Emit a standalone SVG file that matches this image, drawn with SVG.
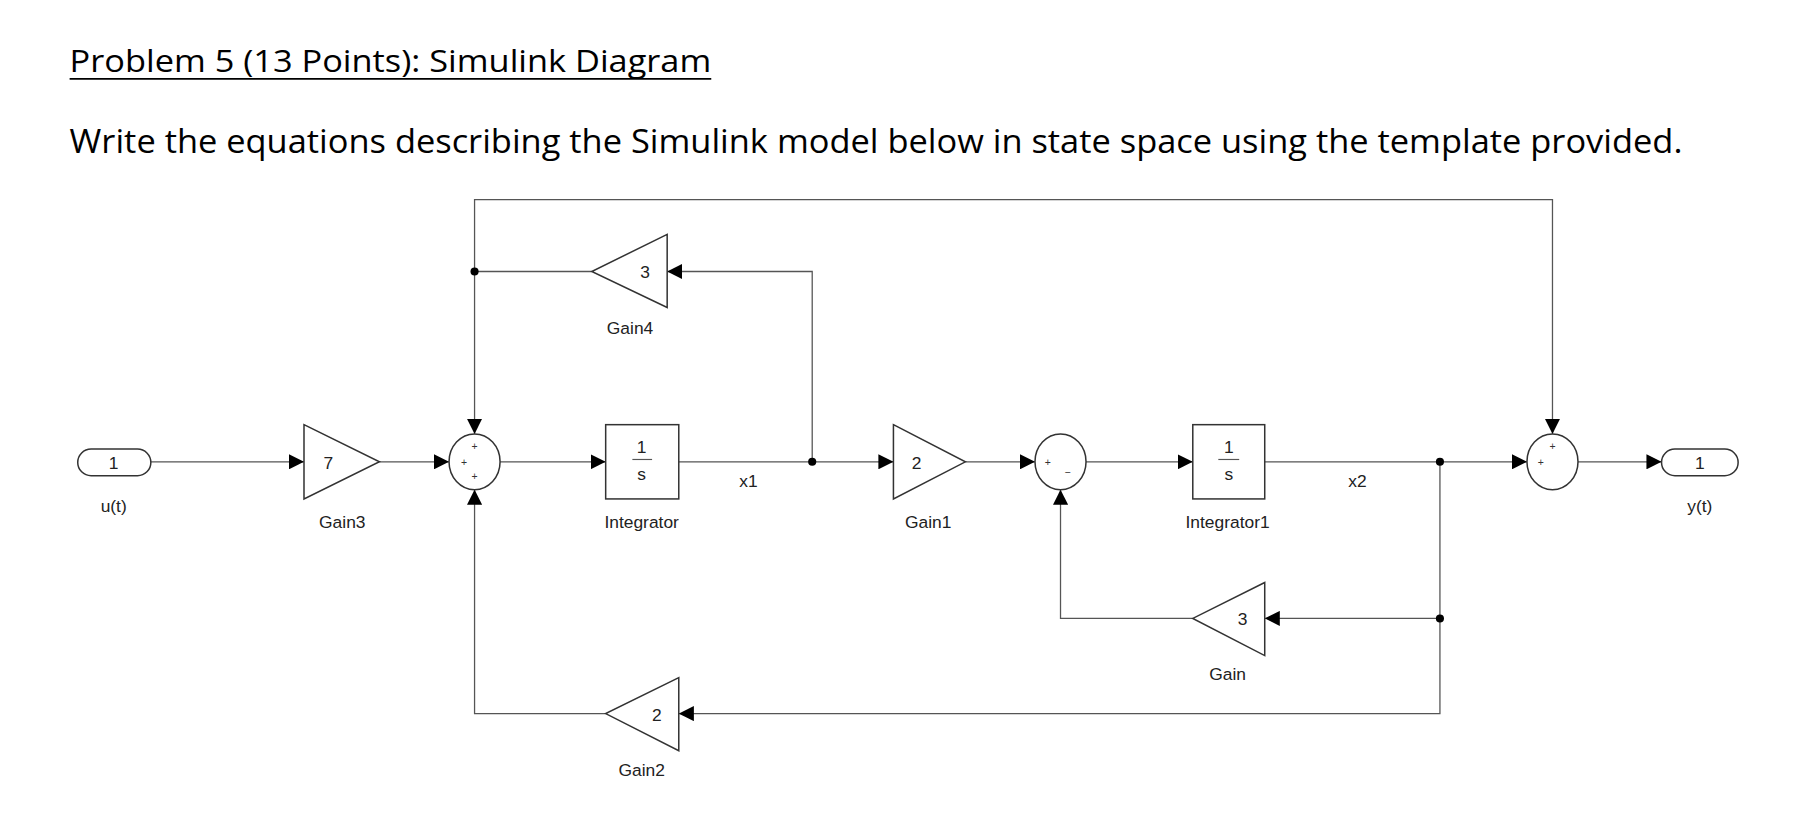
<svg xmlns="http://www.w3.org/2000/svg" width="1810" height="836" viewBox="0 0 1810 836">
<style>
.ln{fill:none;stroke:#555;stroke-width:1.1}
.blk{fill:#fff;stroke:#333;stroke-width:1.3}
.t{font-family:"Liberation Sans",Arial,sans-serif;font-size:15px;fill:#222;text-anchor:middle}
.s{font-family:"Liberation Sans",Arial,sans-serif;font-size:9px;fill:#333;text-anchor:middle}
.h{font-family:"Open Sans","Liberation Sans",sans-serif;fill:#000}
</style>
<defs>
<marker id="a" viewBox="0 0 12 12" refX="12" refY="6" markerWidth="13" markerHeight="13" markerUnits="userSpaceOnUse" orient="auto"><path d="M0,0L12,6L0,12z" fill="#000"/></marker>
</defs>
<rect width="1810" height="836" fill="#fff"/>
<g transform="scale(1.1603)">
<g id="title">
<text class="h" x="60" y="62" font-size="27" textLength="553" lengthAdjust="spacingAndGlyphs">Problem 5 (13 Points): Simulink Diagram</text>
<line x1="60" y1="68" x2="613" y2="68" stroke="#000" stroke-width="1.5"/>
<text class="h" x="60" y="132" font-size="28" textLength="1390" lengthAdjust="spacingAndGlyphs">Write the equations describing the Simulink model below in state space using the template provided.</text>
</g>
<g id="connectors">
<path class="ln" d="M130,398H262" marker-end="url(#a)"/>
<path class="ln" d="M327,398H387" marker-end="url(#a)"/>
<path class="ln" d="M431,398H522" marker-end="url(#a)"/>
<path class="ln" d="M585,398H770" marker-end="url(#a)"/>
<path class="ln" d="M832,398H892" marker-end="url(#a)"/>
<path class="ln" d="M936,398H1028" marker-end="url(#a)"/>
<path class="ln" d="M1090,398H1316" marker-end="url(#a)"/>
<path class="ln" d="M1360,398H1432" marker-end="url(#a)"/>
<path class="ln" d="M700,398V234H575" marker-end="url(#a)"/>
<path class="ln" d="M510,234H409V374" marker-end="url(#a)"/>
<path class="ln" d="M409,234V172H1338V374" marker-end="url(#a)"/>
<path class="ln" d="M1241,398V615H585" marker-end="url(#a)"/>
<path class="ln" d="M522,615H409V422" marker-end="url(#a)"/>
<path class="ln" d="M1241,533H1090" marker-end="url(#a)"/>
<path class="ln" d="M1028,533H914V422" marker-end="url(#a)"/>
<circle cx="409" cy="234" r="3.5" fill="#000"/>
<circle cx="700" cy="398" r="3.5" fill="#000"/>
<circle cx="1241" cy="398" r="3.5" fill="#000"/>
<circle cx="1241" cy="533" r="3.5" fill="#000"/>
<text class="t" x="645" y="420">x1</text>
<text class="t" x="1170" y="420">x2</text>
</g>
<g id="in"><rect class="blk" x="67" y="387" width="63" height="23" rx="11.5"/><text class="t" x="98" y="404">1</text><text class="t" x="98" y="441">u(t)</text></g>
<g id="gain3"><path class="blk" d="M262,366L327,398L262,430z"/><text class="t" x="283" y="404">7</text><text class="t" x="295" y="455">Gain3</text></g>
<g id="sum1"><ellipse class="blk" cx="409" cy="398" rx="22" ry="24"/><text class="s" x="409" y="388">+</text><text class="s" x="400" y="402">+</text><text class="s" x="409" y="414">+</text></g>
<g id="integrator"><rect class="blk" x="522" y="366" width="63" height="64"/><text class="t" x="553" y="390">1</text><line x1="545" y1="396" x2="562" y2="396" stroke="#555"/><text class="t" x="553" y="414">s</text><text class="t" x="553" y="455">Integrator</text></g>
<g id="gain4"><path class="blk" d="M575,202L510,234L575,265z"/><text class="t" x="556" y="240">3</text><text class="t" x="543" y="288">Gain4</text></g>
<g id="gain1"><path class="blk" d="M770,366L832,398L770,430z"/><text class="t" x="790" y="404">2</text><text class="t" x="800" y="455">Gain1</text></g>
<g id="sum2"><ellipse class="blk" cx="914" cy="398" rx="22" ry="24"/><text class="s" x="903" y="402">+</text><text class="s" x="920" y="410">−</text></g>
<g id="integrator1"><rect class="blk" x="1028" y="366" width="62" height="64"/><text class="t" x="1059" y="390">1</text><line x1="1050" y1="396" x2="1068" y2="396" stroke="#555"/><text class="t" x="1059" y="414">s</text><text class="t" x="1058" y="455">Integrator1</text></g>
<g id="gain"><path class="blk" d="M1090,502L1028,533L1090,565z"/><text class="t" x="1071" y="539">3</text><text class="t" x="1058" y="586">Gain</text></g>
<g id="gain2"><path class="blk" d="M585,584L522,615L585,647z"/><text class="t" x="566" y="621">2</text><text class="t" x="553" y="669">Gain2</text></g>
<g id="sum3"><ellipse class="blk" cx="1338" cy="398" rx="22" ry="24"/><text class="s" x="1338" y="388">+</text><text class="s" x="1328" y="402">+</text></g>
<g id="out"><rect class="blk" x="1432" y="387" width="66" height="23" rx="11.5"/><text class="t" x="1465" y="404">1</text><text class="t" x="1465" y="441">y(t)</text></g>
</g>
</svg>
